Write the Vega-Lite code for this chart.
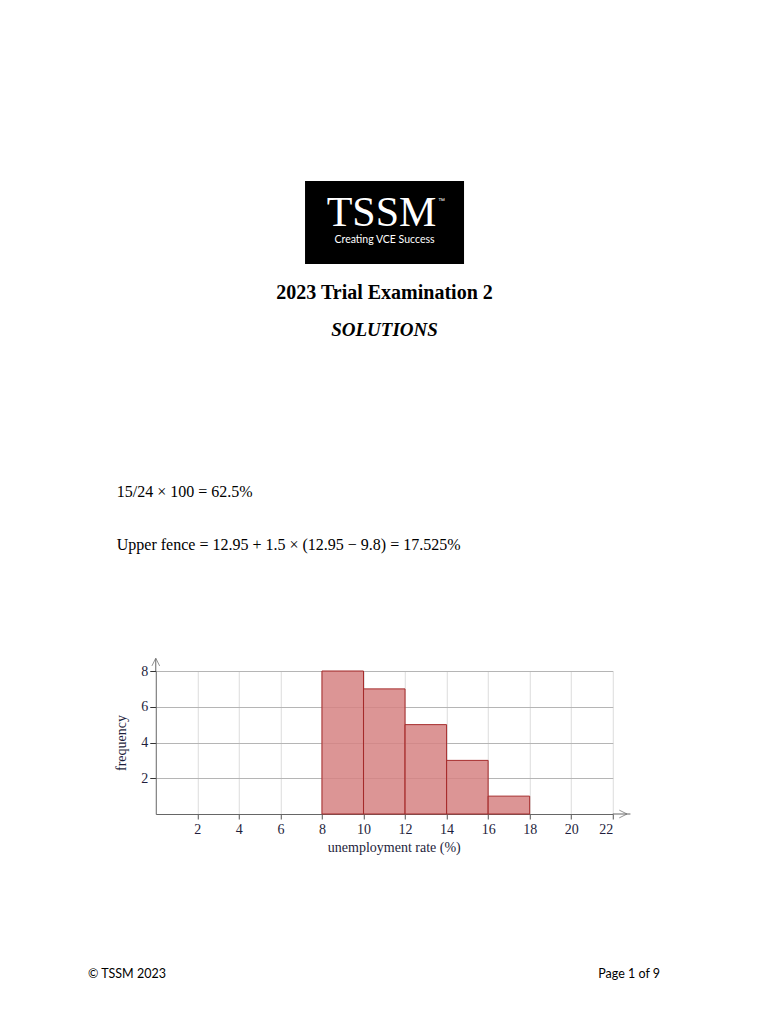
{
  "$schema": "https://vega.github.io/schema/vega-lite/v6.json",
  "background": "white",
  "padding": {"left": 88, "top": 181, "right": 0, "bottom": 0},
  "config": {"view": {"stroke": null}, "font": "Liberation Serif"},
  "center": true,
  "spacing": 113,
  "vconcat": [
    {
      "width": 159,
      "height": 83,
      "view": {"fill": "black", "stroke": null},
      "data": {"values": [{"brand": "TSSM", "tm": "™", "tagline": "Creating VCE Success"}]},
      "title": {
        "text": "2023 Trial Examination 2",
        "subtitle": ["SOLUTIONS", " ", " "],
        "orient": "bottom",
        "anchor": "middle",
        "frame": "group",
        "font": "Liberation Serif",
        "fontSize": 20,
        "fontWeight": "bold",
        "color": "black",
        "offset": 19,
        "subtitleFont": "Liberation Serif",
        "subtitleFontSize": 19,
        "subtitleFontWeight": "bold",
        "subtitleFontStyle": "italic",
        "subtitleColor": "black",
        "subtitlePadding": 18,
        "subtitleLineHeight": 15.3
      },
      "layer": [
        {"mark": {"type": "text", "font": "Liberation Serif", "fontSize": 42, "color": "white", "dy": -10, "dx": -3}, "encoding": {"text": {"field": "brand"}}},
        {"mark": {"type": "text", "font": "Liberation Sans", "fontSize": 7, "color": "white", "dx": 57, "dy": -22}, "encoding": {"text": {"field": "tm"}}},
        {"mark": {"type": "text", "font": "Lato", "fontSize": 10.5, "color": "white", "dy": 17}, "encoding": {"text": {"field": "tagline"}}}
      ]
    },
    {
      "width": 457,
      "height": 143,
      "title": {
        "text": "15/24 × 100 = 62.5%",
        "subtitle": "Upper fence = 12.95 + 1.5 × (12.95 − 9.8) = 17.525%",
        "anchor": "start",
        "frame": "bounds",
        "dx": 2,
        "font": "Liberation Serif",
        "fontSize": 16,
        "fontWeight": "normal",
        "color": "black",
        "subtitleFont": "Liberation Serif",
        "subtitleFontSize": 16,
        "subtitleColor": "black",
        "subtitlePadding": 37,
        "offset": 103
      },
      "layer": [
        {
          "data": {"values": [
            {"lower": 8, "upper": 10, "frequency": 8},
            {"lower": 10, "upper": 12, "frequency": 7},
            {"lower": 12, "upper": 14, "frequency": 5},
            {"lower": 14, "upper": 16, "frequency": 3},
            {"lower": 16, "upper": 18, "frequency": 1}
          ]},
          "mark": {"type": "rect", "fill": "#d68282", "fillOpacity": 0.85, "stroke": "#a52a2a", "strokeWidth": 1},
          "encoding": {
            "x": {
              "field": "lower", "type": "quantitative",
              "scale": {"domain": [0, 22], "nice": false, "zero": true},
              "axis": {
                "values": [2, 4, 6, 8, 10, 12, 14, 16, 18, 20, 22],
                "grid": true, "gridColor": "#dcdcdc",
                "domainColor": "#666666", "tickColor": "#555555", "tickSize": 5,
                "labelFont": "Liberation Serif", "labelFontSize": 14, "labelColor": "#1e1e3c", "labelPadding": 3,
                "title": "unemployment rate (%)",
                "titleX": 238,
                "titleFont": "Liberation Serif", "titleFontSize": 14, "titleFontWeight": "normal", "titleColor": "#1e1e3c", "titlePadding": 4
              }
            },
            "x2": {"field": "upper"},
            "y": {
              "field": "frequency", "type": "quantitative",
              "scale": {"domain": [0, 8], "nice": false},
              "axis": {
                "values": [2, 4, 6, 8],
                "grid": true,
                "gridColor": "#b5b5b5",
                "domainColor": "#666666", "tickColor": "#333333",
                "tickSize": 6,
                "labelFont": "Liberation Serif", "labelFontSize": 14, "labelColor": "#1e1e3c", "labelPadding": 2,
                "title": "frequency",
                "titleFont": "Liberation Serif", "titleFontSize": 14, "titleFontWeight": "normal", "titleColor": "#1e1e3c", "titlePadding": 12
              }
            },
            "y2": {"datum": 0}
          }
        },
        {
          "data": {"values": [{}]},
          "mark": {"type": "rule", "color": "#666666", "strokeWidth": 1, "clip": false},
          "encoding": {"x": {"datum": 22, "type": "quantitative"}, "x2": {"datum": 22.85}, "y": {"datum": 0, "type": "quantitative"}}
        },
        {
          "data": {"values": [{}]},
          "mark": {"type": "rule", "color": "#666666", "strokeWidth": 1, "clip": false},
          "encoding": {"x": {"datum": 0, "type": "quantitative"}, "y": {"datum": 8, "type": "quantitative"}, "y2": {"datum": 8.7}}
        },
        {
          "data": {"values": [{}]},
          "mark": {"type": "point", "shape": "M-1,-1L1,0L-1,1", "filled": false, "size": 60, "stroke": "#666666", "strokeWidth": 1, "clip": false},
          "encoding": {"x": {"datum": 22.5, "type": "quantitative"}, "y": {"datum": 0, "type": "quantitative"}}
        },
        {
          "data": {"values": [{}]},
          "mark": {"type": "point", "shape": "M-1,1L0,-1L1,1", "filled": false, "size": 60, "stroke": "#666666", "strokeWidth": 1, "clip": false},
          "encoding": {"x": {"datum": 0, "type": "quantitative"}, "y": {"datum": 8.5, "type": "quantitative"}}
        },
        {
          "data": {"values": [{}]},
          "mark": {"type": "point", "size": 4, "opacity": 0, "clip": false},
          "encoding": {"x": {"datum": 23.37, "type": "quantitative"}, "y": {"datum": 0, "type": "quantitative"}}
        }
      ]
    },
    {
      "width": 622,
      "height": 14,
      "data": {"values": [
        {"side": "left", "label": "© TSSM 2023"},
        {"side": "right", "label": "Page 1 of 9"}
      ]},
      "encoding": {
        "x": {"field": "side", "type": "nominal", "scale": {"type": "point", "padding": 0}, "axis": null},
        "text": {"field": "label"}
      },
      "layer": [
        {"transform": [{"filter": "datum.side === 'left'"}], "mark": {"type": "text", "align": "left", "font": "Lato", "fontSize": 12.5, "color": "black"}},
        {"transform": [{"filter": "datum.side === 'right'"}], "mark": {"type": "text", "align": "right", "dx": -50, "font": "Lato", "fontSize": 12.5, "color": "black"}}
      ]
    }
  ]
}
